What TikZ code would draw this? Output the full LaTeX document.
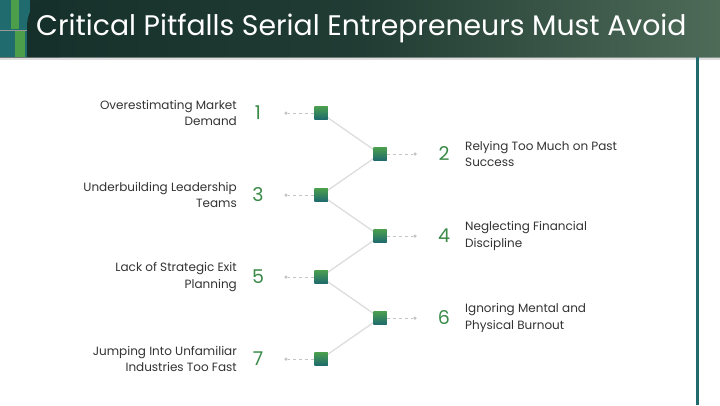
\documentclass[tikz,border=0pt]{standalone}
\usepackage{fontspec}
\setmainfont{Poppins}
\usetikzlibrary{calc}
\definecolor{txt}{HTML}{333333}
\definecolor{numg}{HTML}{3A8A48}
\definecolor{sqtop}{HTML}{4A9E4E}
\definecolor{sqbot}{HTML}{1E6A6E}
\definecolor{conn}{HTML}{DDDDDD}
\definecolor{dashc}{HTML}{C4C4C4}
\definecolor{tealc}{HTML}{1F6B6E}
\definecolor{greenc}{HTML}{4D9E4A}
\definecolor{barl}{HTML}{15302A}
\definecolor{barr}{HTML}{4E6B58}
\tikzset{
  sq/.style={minimum size=13pt, inner sep=0pt, top color=sqtop, bottom color=sqbot, draw=none},
  dot/.style={circle, fill=dashc, inner sep=0pt, minimum size=3.5pt},
  num/.style={font=\fontsize{19}{19}\selectfont, text=numg, inner sep=0pt},
  ltxt/.style={font=\fontsize{12}{16.5}\selectfont, text=txt, align=right, anchor=east, inner sep=0pt},
  rtxt/.style={font=\fontsize{12}{16.5}\selectfont, text=txt, align=left, anchor=west, inner sep=0pt},
  dsh/.style={draw=dashc, dashed, dash pattern=on 3pt off 3pt, line width=0.9pt},
  link/.style={draw=conn, line width=1.3pt}
}
\begin{document}
\begin{tikzpicture}[x=1pt,y=-1pt]
\useasboundingbox (0,0) rectangle (720,405);
\fill[white] (0,0) rectangle (720,405);
% title bar
\shade[left color=barl, right color=barr, middle color=barl!80!barr] (0,0) rectangle (720,57);
\fill[black!25, opacity=0.5] (0,57) rectangle (720,60);
% decorative stripes
\fill[tealc] (0,0) rectangle (30,57);
\fill[greenc] (11,0) rectangle (19,29);
\fill[greenc] (15,31) rectangle (25,57);
\draw[black!40, line width=0.6pt] (0,30) -- (30,30);
\fill[barl] (27,57) -- (27,28) .. controls (27,10) and (35,0) .. (50,0) -- (60,0) -- (60,57) -- cycle;
\node[anchor=west, text=white, font=\fontsize{28.3}{28.3}\selectfont, inner sep=0pt] (title) at (36,28) {Critical Pitfalls Serial Entrepreneurs Must Avoid};
% right vertical line
\fill[tealc] (695.5,57) rectangle (698.5,405);
% squares
\node[sq] (s1) at (321,113) {};
\node[sq] (s2) at (380,154) {};
\node[sq] (s3) at (321,195) {};
\node[sq] (s4) at (380,236) {};
\node[sq] (s5) at (321,277) {};
\node[sq] (s6) at (380,318) {};
\node[sq] (s7) at (321,359) {};
% connectors
\draw[link] (s1.center) -- (s2.center) -- (s3.center) -- (s4.center) -- (s5.center) -- (s6.center) -- (s7.center);
% redraw squares on top
\foreach \x/\y in {321/113,380/154,321/195,380/236,321/277,380/318,321/359}{
  \node[sq] at (\x,\y) {};
}
% dots
\node[dot] (d1) at (286,113) {};
\node[dot] (d3) at (286,195) {};
\node[dot] (d5) at (286,277) {};
\node[dot] (d7) at (286,359) {};
\node[dot] (d2) at (415,154) {};
\node[dot] (d4) at (415,236) {};
\node[dot] (d6) at (415,318) {};
\draw[dsh] (s1.west) -- (d1);
\draw[dsh] (s3.west) -- (d3);
\draw[dsh] (s5.west) -- (d5);
\draw[dsh] (s7.west) -- (d7);
\draw[dsh] (s2.east) -- (d2);
\draw[dsh] (s4.east) -- (d4);
\draw[dsh] (s6.east) -- (d6);
% numbers
\node[num] (n1) at (258,113) {1};
\node[num] (n3) at (258,195) {3};
\node[num] (n5) at (258,277) {5};
\node[num] (n7) at (258,359) {7};
\node[num] (n2) at (444,154) {2};
\node[num] (n4) at (444,236) {4};
\node[num] (n6) at (444,318) {6};
% texts
\node[ltxt] (t1) at (237,113) {Overestimating Market\\Demand};
\node[ltxt] (t3) at (237,195) {Underbuilding Leadership\\Teams};
\node[ltxt] (t5) at (237,277) {Lack of Strategic Exit\\Planning};
\node[ltxt] (t7) at (237,359) {Jumping Into Unfamiliar\\Industries Too Fast};
\node[rtxt] (t2) at (465,154) {Relying Too Much on Past\\Success};
\node[rtxt] (t4) at (465,236) {Neglecting Financial\\Discipline};
\node[rtxt] (t6) at (465,318) {Ignoring Mental and\\Physical Burnout};
\end{tikzpicture}
\end{document}
